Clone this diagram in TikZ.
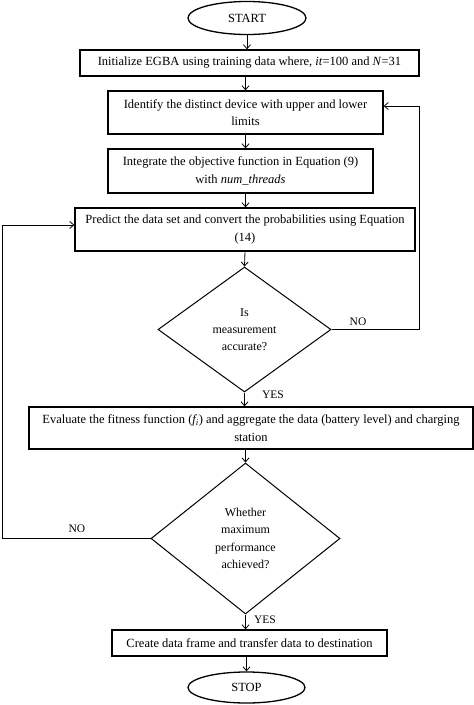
\documentclass[tikz,border=0pt]{standalone}
\usepackage{fontspec}
\setmainfont{Liberation Serif}
\usetikzlibrary{shapes.geometric,arrows.meta}
\tikzset{
  caja/.style={draw, line width=1.3pt, rectangle, align=center, inner sep=2pt, font=\fontsize{12.5}{17.5}\selectfont},
  ovalo/.style={draw, line width=1.3pt, ellipse, inner sep=0pt, font=\fontsize{12.5}{17.5}\selectfont},
  rombo/.style={draw, line width=1pt, diamond, align=center, inner sep=0pt, font=\fontsize{12}{17.3}\selectfont},
  flecha/.style={-{Straight Barb[length=4pt,width=7pt]}, line width=0.8pt},
  etiqueta/.style={inner sep=1pt}
}
\begin{document}
\begin{tikzpicture}[x=1pt,y=1pt,font=\fontsize{11.5}{17}\selectfont]
        \useasboundingbox (0,0) rectangle (474,-705);

        % Inicio y cajas superiores
        \node[ovalo, minimum width=118pt, minimum height=33pt] (inicio) at (247,-18) {START};
        \node[caja, minimum width=339pt, minimum height=26pt] (ini) at (249.5,-63)
            {Initialize EGBA using training data where, \textit{it}=100 and \textit{N}=31};
        \node[caja, minimum width=275pt, minimum height=43pt] (ident) at (245.5,-112.5)
            {Identify the distinct device with upper and lower\\limits};
        \node[caja, minimum width=265pt, minimum height=44pt] (integ) at (240.5,-171)
            {Integrate the objective function in Equation (9)\\with \textit{num\_threads}};
        \node[caja, minimum width=340pt, minimum height=43pt] (pred) at (245,-229.5)
            {Predict the data set and convert the probabilities using Equation\\(14)};

        % Primera decision
        \node[rombo, minimum width=173pt, minimum height=125pt] (medida) at (244.5,-329.5)
            {Is\\measurement\\accurate?};

        % Evaluacion y segunda decision
        \node[caja, minimum width=444pt, minimum height=42pt] (evalua) at (251,-428)
            {Evaluate the fitness function (\textit{f\textsubscript{i}}) and aggregate the data (battery level) and charging\\station};
        \node[rombo, minimum width=189pt, minimum height=151pt] (maximo) at (245.5,-538.5)
            {Whether\\maximum\\performance\\achieved?};

        % Final
        \node[caja, minimum width=275pt, minimum height=26pt] (crea) at (249.5,-643)
            {Create data frame and transfer data to destination};
        \node[ovalo, minimum width=117pt, minimum height=31pt] (fin) at (246.5,-687.5) {STOP};

        % Flechas verticales
        \draw[flecha] (inicio.south) -- (inicio.south |- ini.north);
        \draw[flecha] (ident.north |- ini.south) -- (ident.north);
        \draw[flecha] (ident.south) -- (ident.south |- integ.north);
        \draw[flecha] (ident.south |- integ.south) -- (ident.south |- pred.north);
        \draw[flecha] (pred.south) -- (medida.north);
        \draw[flecha] (medida.south) -- (medida.south |- evalua.north);
        \draw[flecha] (maximo.north |- evalua.south) -- (maximo.north);
        \draw[flecha] (maximo.south) -- (maximo.south |- crea.north);
        \draw[flecha] (fin.north |- crea.south) -- (fin.north);

        % Retornos
        \coordinate (retorno1) at (419,-106);
        \coordinate (retorno2) at (2,-225);
        \draw[flecha] (medida.east) -| (retorno1) -- (retorno1 -| ident.east);
        \draw[flecha] (maximo.west) -| (retorno2) -- (retorno2 -| pred.west);

        % Etiquetas
        \node[etiqueta] (no1) at (358,-322) {NO};
        \node[etiqueta] (si1) at (273,-395) {YES};
        \node[etiqueta] (no2) at (77,-529) {NO};
        \node[etiqueta] (si2) at (265,-620) {YES};
\end{tikzpicture}
\end{document}
